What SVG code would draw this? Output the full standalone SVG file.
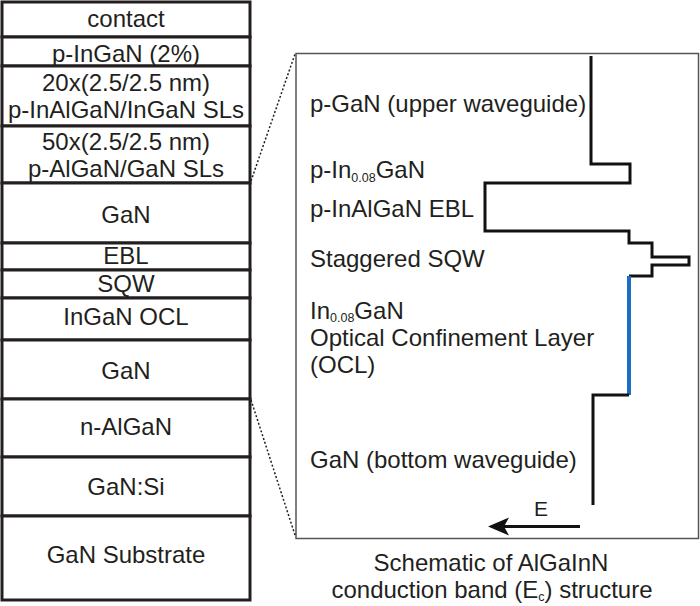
<svg xmlns="http://www.w3.org/2000/svg" width="700" height="606" viewBox="0 0 700 606">
  <style>
    .layer rect { fill: #ffffff; stroke: #231f20; stroke-width: 3; }
    .t { font-family: "Liberation Sans", Arial, sans-serif; font-size: 24px; fill: #231f20; }
    .c { text-anchor: middle; }
    .sub { font-size: 12.5px; }
    .band { fill: none; stroke: #111111; stroke-width: 3; stroke-linejoin: miter; }
    .blue { fill: none; stroke: #1a6fc4; stroke-width: 4; }
    .dot { fill: none; stroke: #231f20; stroke-width: 1.5; stroke-dasharray: 2 2; }
  </style>
  <rect width="700" height="606" fill="#ffffff"/>

  <!-- Left layer stack -->
  <g id="stack">
    <g id="layer-contact" class="layer"><rect x="2" y="2" width="248" height="35"/><text class="t c" x="126" y="27">contact</text></g>
    <g id="layer-pInGaN" class="layer"><rect x="2" y="37" width="248" height="29"/><text class="t c" x="126" y="62">p-InGaN (2%)</text></g>
    <g id="layer-SL20" class="layer"><rect x="2" y="66" width="248" height="60"/><text class="t c" x="126" y="90.5">20x(2.5/2.5 nm)</text><text class="t c" x="126" y="117.5">p-InAlGaN/InGaN SLs</text></g>
    <g id="layer-SL50" class="layer"><rect x="2" y="126" width="248" height="57"/><text class="t c" x="126" y="150">50x(2.5/2.5 nm)</text><text class="t c" x="126" y="177">p-AlGaN/GaN SLs</text></g>
    <g id="layer-GaN-top" class="layer"><rect x="2" y="183" width="248" height="60"/><text class="t c" x="126" y="223">GaN</text></g>
    <g id="layer-EBL" class="layer"><rect x="2" y="243" width="248" height="27"/><text class="t c" x="126" y="264">EBL</text></g>
    <g id="layer-SQW" class="layer"><rect x="2" y="270" width="248" height="28"/><text class="t c" x="126" y="292">SQW</text></g>
    <g id="layer-OCL" class="layer"><rect x="2" y="298" width="248" height="42"/><text class="t c" x="126" y="325">InGaN OCL</text></g>
    <g id="layer-GaN-bot" class="layer"><rect x="2" y="340" width="248" height="59"/><text class="t c" x="126" y="379">GaN</text></g>
    <g id="layer-nAlGaN" class="layer"><rect x="2" y="399" width="248" height="58"/><text class="t c" x="126" y="435">n-AlGaN</text></g>
    <g id="layer-GaNSi" class="layer"><rect x="2" y="457" width="248" height="59"/><text class="t c" x="126" y="495">GaN:Si</text></g>
    <g id="layer-substrate" class="layer"><rect x="2" y="516" width="248" height="84"/><text class="t c" x="126" y="563">GaN Substrate</text></g>
  </g>

  <!-- Right schematic panel -->
  <g id="band-panel">
    <rect x="296" y="53.5" width="402.5" height="485" fill="none" stroke="#555555" stroke-width="1.5"/>
    <text class="t" x="310" y="112">p-GaN (upper waveguide)</text>
    <text class="t" x="310" y="178">p-In<tspan class="sub" dy="3.5">0.08</tspan><tspan dy="-3.5">GaN</tspan></text>
    <text class="t" x="310" y="217">p-InAlGaN EBL</text>
    <text class="t" x="310" y="267">Staggered SQW</text>
    <text class="t" x="310" y="318.5">In<tspan class="sub" dy="3">0.08</tspan><tspan dy="-3">GaN</tspan></text>
    <text class="t" x="310" y="346">Optical Confinement Layer</text>
    <text class="t" x="310" y="373">(OCL)</text>
    <text class="t" x="310" y="468">GaN (bottom waveguide)</text>
    <path class="band" d="M591,56 V164 H630 V183 H485 V231 H629 V243 H652 V257 H689 V265 H652 V276 H629"/>
    <path class="blue" d="M629,276 V395"/>
    <path class="band" d="M629,395 H593 V505"/>
    <line x1="580" y1="526.5" x2="504" y2="526.5" stroke="#111111" stroke-width="3"/>
    <polygon points="488,526.5 509,517.5 504,526.5 509,535.5" fill="#111111"/>
    <text class="t" x="534" y="516" style="font-size:21px">E</text>
  </g>

  <!-- Connectors -->
  <g id="connectors">
    <line class="dot" x1="251" y1="181" x2="295" y2="54"/>
    <line class="dot" x1="251" y1="400" x2="295" y2="535"/>
  </g>

  <!-- Caption -->
  <g id="caption">
    <text class="t c" x="491" y="571">Schematic of AlGaInN</text>
    <text class="t c" x="492" y="598">conduction band (E<tspan class="sub" dy="3">c</tspan><tspan dy="-3">) structure</tspan></text>
  </g>
</svg>
